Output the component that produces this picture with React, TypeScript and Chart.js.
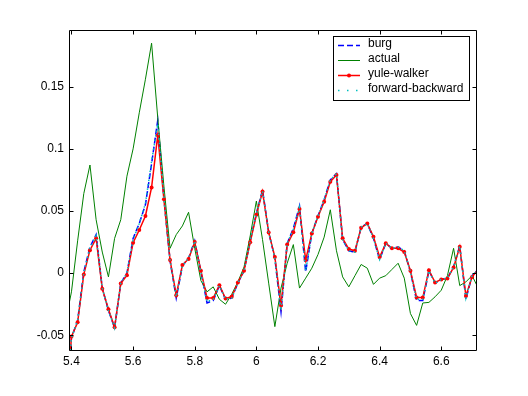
import React, { useEffect, useRef } from "react";
import { Chart, registerables } from "chart.js";

Chart.register(...registerables);

// Sample times (x)
const xValues = [
  5.38, 5.40, 5.42, 5.44, 5.46, 5.48, 5.50, 5.52, 5.54, 5.56,
  5.58, 5.60, 5.62, 5.64, 5.66, 5.68, 5.70, 5.72, 5.74, 5.76,
  5.78, 5.80, 5.82, 5.84, 5.86, 5.88, 5.90, 5.92, 5.94, 5.96,
  5.98, 6.00, 6.02, 6.04, 6.06, 6.08, 6.10, 6.12, 6.14, 6.16,
  6.18, 6.20, 6.22, 6.24, 6.26, 6.28, 6.30, 6.32, 6.34, 6.36,
  6.38, 6.40, 6.42, 6.44, 6.46, 6.48, 6.50, 6.52, 6.54, 6.56,
  6.58, 6.60, 6.62, 6.64, 6.66, 6.68, 6.70, 6.72,
];

const burg = [
  -0.12, -0.052, -0.038, 0.001, 0.021, 0.031, -0.012, -0.03, -0.044, -0.008,
  0.0, 0.028, 0.04, 0.055, 0.088, 0.123, 0.06, 0.01, -0.02, 0.006,
  0.012, 0.026, 0.001, -0.024, -0.022, -0.01, -0.021, -0.02, -0.008, 0.002,
  0.026, 0.048, 0.067, 0.033, 0.012, -0.031, 0.024, 0.036, 0.054, 0.001,
  0.032, 0.046, 0.059, 0.075, 0.08, 0.027, 0.018, 0.017, 0.037, 0.04,
  0.028, 0.011, 0.024, 0.02, 0.021, 0.018, 0.001, -0.022, -0.022, 0.002,
  -0.008, -0.005, -0.004, 0.005, 0.022, -0.021, -0.002, 0.003,
];

const actual = [
  -0.04, -0.015, 0.026, 0.064, 0.087, 0.043, 0.017, -0.003, 0.028, 0.043,
  0.078, 0.1, 0.129, 0.156, 0.185, 0.125, 0.07, 0.02, 0.031, 0.038,
  0.049, 0.02, -0.006, -0.015, -0.011, -0.021, -0.025, -0.017, -0.007, 0.005,
  0.03, 0.058, 0.027, -0.008, -0.043, -0.012, 0.008, 0.023, -0.012, -0.004,
  0.004, 0.015, 0.029, 0.051, 0.018, -0.003, -0.011, -0.002, 0.007, 0.004,
  -0.009, -0.004, -0.002, 0.003, 0.008, -0.004, -0.0325, -0.042, -0.024, -0.0235,
  -0.019, -0.0137, -0.002, 0.02, -0.01, -0.007, -0.002, -0.012,
];

const yuleWalker = [
  -0.12, -0.051, -0.0395, -0.001, 0.0185, 0.028, -0.0126, -0.029, -0.0435, -0.0083,
  -0.0016, 0.0245, 0.0347, 0.046, 0.069, 0.111, 0.0594, 0.0105, -0.0177, 0.0065,
  0.0115, 0.025, 0.002, -0.02, -0.02, -0.0097, -0.0204, -0.019, -0.0075, 0.002,
  0.0248, 0.047, 0.0656, 0.0328, 0.013, -0.026, 0.023, 0.033, 0.0516, 0.0105,
  0.032, 0.0454, 0.0575, 0.0736, 0.079, 0.028, 0.0194, 0.018, 0.0365, 0.04,
  0.0293, 0.013, 0.024, 0.02, 0.02, 0.017, 0.0019, -0.0196, -0.0196, 0.0024,
  -0.0075, -0.005, -0.0043, 0.0046, 0.0212, -0.0183, -0.003, 0.003,
];

const forwardBackward = [
  -0.12, -0.052, -0.038, 0.0, 0.02, 0.03, -0.012, -0.03, -0.044, -0.008,
  0.0, 0.027, 0.04, 0.056, 0.09, 0.12, 0.06, 0.01, -0.019, 0.006,
  0.012, 0.026, 0.001, -0.023, -0.021, -0.01, -0.021, -0.02, -0.008, 0.002,
  0.026, 0.048, 0.066, 0.033, 0.012, -0.03, 0.024, 0.035, 0.053, 0.002,
  0.032, 0.046, 0.059, 0.075, 0.08, 0.027, 0.018, 0.017, 0.037, 0.04,
  0.028, 0.011, 0.024, 0.02, 0.021, 0.018, 0.001, -0.021, -0.021, 0.002,
  -0.008, -0.005, -0.004, 0.005, 0.022, -0.02, -0.002, 0.003,
];

const xTicks = [5.4, 5.6, 5.8, 6.0, 6.2, 6.4, 6.6];
const xTickLabels = ["5.4", "5.6", "5.8", "6", "6.2", "6.4", "6.6"];
const yTicks = [-0.05, 0, 0.05, 0.1, 0.15];
const yTickLabels = ["-0.05", "0", "0.05", "0.1", "0.15"];
const legendLabels = ["burg", "actual", "yule-walker", "forward-backward"];

const FONT = '"Liberation Sans", Arial, Helvetica, sans-serif';

const BLUE = "#0000ff";
const GREEN = "#008000";
const RED = "#ff0000";
const CYAN = "#00bfbf";

const toPoints = (ys: number[]) => xValues.map((x, i) => ({ x, y: ys[i] }));

const framePlugin = {
  id: "matlabFrame",
  afterDraw(chart: any) {
    const { ctx, chartArea: a, scales } = chart;
    ctx.save();
    ctx.strokeStyle = "#000";
    ctx.lineWidth = 1;
    ctx.setLineDash([]);
    const L = Math.round(a.left) + 0.5;
    const R = Math.round(a.right) - 0.5;
    const T = Math.round(a.top) + 0.5;
    const B = Math.round(a.bottom) - 0.5;
    ctx.beginPath();
    ctx.rect(L, T, R - L, B - T);
    const tl = 4;
    xTicks.forEach((v) => {
      const px = Math.round(scales.x.getPixelForValue(v)) + 0.5;
      ctx.moveTo(px, B);
      ctx.lineTo(px, B - tl);
      ctx.moveTo(px, T);
      ctx.lineTo(px, T + tl);
    });
    yTicks.forEach((v) => {
      const py = Math.round(scales.y.getPixelForValue(v)) + 0.5;
      ctx.moveTo(L, py);
      ctx.lineTo(L + tl, py);
      ctx.moveTo(R, py);
      ctx.lineTo(R - tl, py);
    });
    ctx.stroke();

    // Legend box
    const bx = 333.5, by = 36.5, bw = 136, bh = 64;
    ctx.fillStyle = "#fff";
    ctx.fillRect(bx, by, bw, bh);
    ctx.strokeStyle = "#000";
    ctx.lineWidth = 1;
    ctx.strokeRect(bx, by, bw, bh);

    const lineY = [45.5, 60.5, 75.5, 90.5];
    const textY = [47, 62, 77, 92];
    const colors = [BLUE, GREEN, RED, CYAN];
    const widths = [1.5, 1, 1.5, 1.5];
    const dashes = [[6, 3], [], [], [1.5, 7.5]];
    ctx.font = `12px ${FONT}`;
    ctx.textAlign = "left";
    ctx.textBaseline = "alphabetic";
    legendLabels.forEach((label, i) => {
      ctx.strokeStyle = colors[i];
      ctx.lineWidth = widths[i];
      ctx.setLineDash(dashes[i]);
      ctx.beginPath();
      ctx.moveTo(338, lineY[i]);
      ctx.lineTo(360, lineY[i]);
      ctx.stroke();
      ctx.setLineDash([]);
      if (i === 2) {
        ctx.fillStyle = RED;
        ctx.beginPath();
        ctx.arc(349, lineY[i], 2, 0, Math.PI * 2);
        ctx.fill();
      }
      ctx.fillStyle = "#000";
      ctx.fillText(label, 368, textY[i]);
    });
    ctx.restore();
  },
};

export default function App() {
  const canvasRef = useRef<HTMLCanvasElement | null>(null);

  useEffect(() => {
    const canvas = canvasRef.current;
    if (!canvas) return;
    const chart = new Chart(canvas, {
      type: "line",
      data: {
        datasets: [
          {
            label: "burg",
            data: toPoints(burg),
            borderColor: BLUE,
            borderWidth: 1.5,
            borderDash: [6, 3],
            pointRadius: 0,
            fill: false,
            tension: 0,
            order: 3,
          },
          {
            label: "actual",
            data: toPoints(actual),
            borderColor: GREEN,
            borderWidth: 1,
            pointRadius: 0,
            fill: false,
            tension: 0,
            order: 2,
          },
          {
            label: "yule-walker",
            data: toPoints(yuleWalker),
            borderColor: RED,
            backgroundColor: RED,
            borderWidth: 1.5,
            pointRadius: 2,
            pointBorderWidth: 0,
            pointBackgroundColor: RED,
            pointStyle: "circle",
            fill: false,
            tension: 0,
            order: 1,
          },
          {
            label: "forward-backward",
            data: toPoints(forwardBackward),
            borderColor: CYAN,
            borderWidth: 1.5,
            borderDash: [1.5, 3],
            pointRadius: 0,
            fill: false,
            tension: 0,
            order: 0,
          },
        ],
      },
      options: {
        responsive: false,
        animation: false,
        devicePixelRatio: 1,
        layout: { padding: { top: 30, left: 0, right: 51, bottom: 0 } },
        plugins: {
          legend: { display: false },
          tooltip: { enabled: false },
        },
        scales: {
          x: {
            type: "linear",
            min: 5.392,
            max: 6.716,
            grid: { display: false, drawTicks: false },
            border: { display: false },
            afterFit: (s: any) => {
              s.height = 45;
            },
            afterBuildTicks: (s: any) => {
              s.ticks = xTicks.map((v) => ({ value: v }));
            },
            ticks: {
              autoSkip: false,
              maxRotation: 0,
              padding: 3,
              color: "#000",
              font: { family: FONT, size: 12 },
              callback: (v: any) => {
                const i = xTicks.findIndex((t) => Math.abs(t - Number(v)) < 1e-6);
                return i >= 0 ? xTickLabels[i] : "";
              },
            },
          },
          y: {
            type: "linear",
            min: -0.0626,
            max: 0.1956,
            grid: { display: false, drawTicks: false },
            border: { display: false },
            afterFit: (s: any) => {
              s.width = 69;
            },
            afterBuildTicks: (s: any) => {
              s.ticks = yTicks.map((v) => ({ value: v }));
            },
            ticks: {
              autoSkip: false,
              padding: 5,
              color: "#000",
              font: { family: FONT, size: 12 },
              callback: (v: any) => {
                const i = yTicks.findIndex((t) => Math.abs(t - Number(v)) < 1e-6);
                return i >= 0 ? yTickLabels[i] : "";
              },
            },
          },
        },
      },
      plugins: [framePlugin],
    });
    return () => chart.destroy();
  }, []);

  return (
    <div style={{ position: "fixed", left: 0, top: 0, width: 528, height: 396, background: "#fff" }}>
      <canvas ref={canvasRef} width={528} height={396} style={{ display: "block" }} />
    </div>
  );
}
